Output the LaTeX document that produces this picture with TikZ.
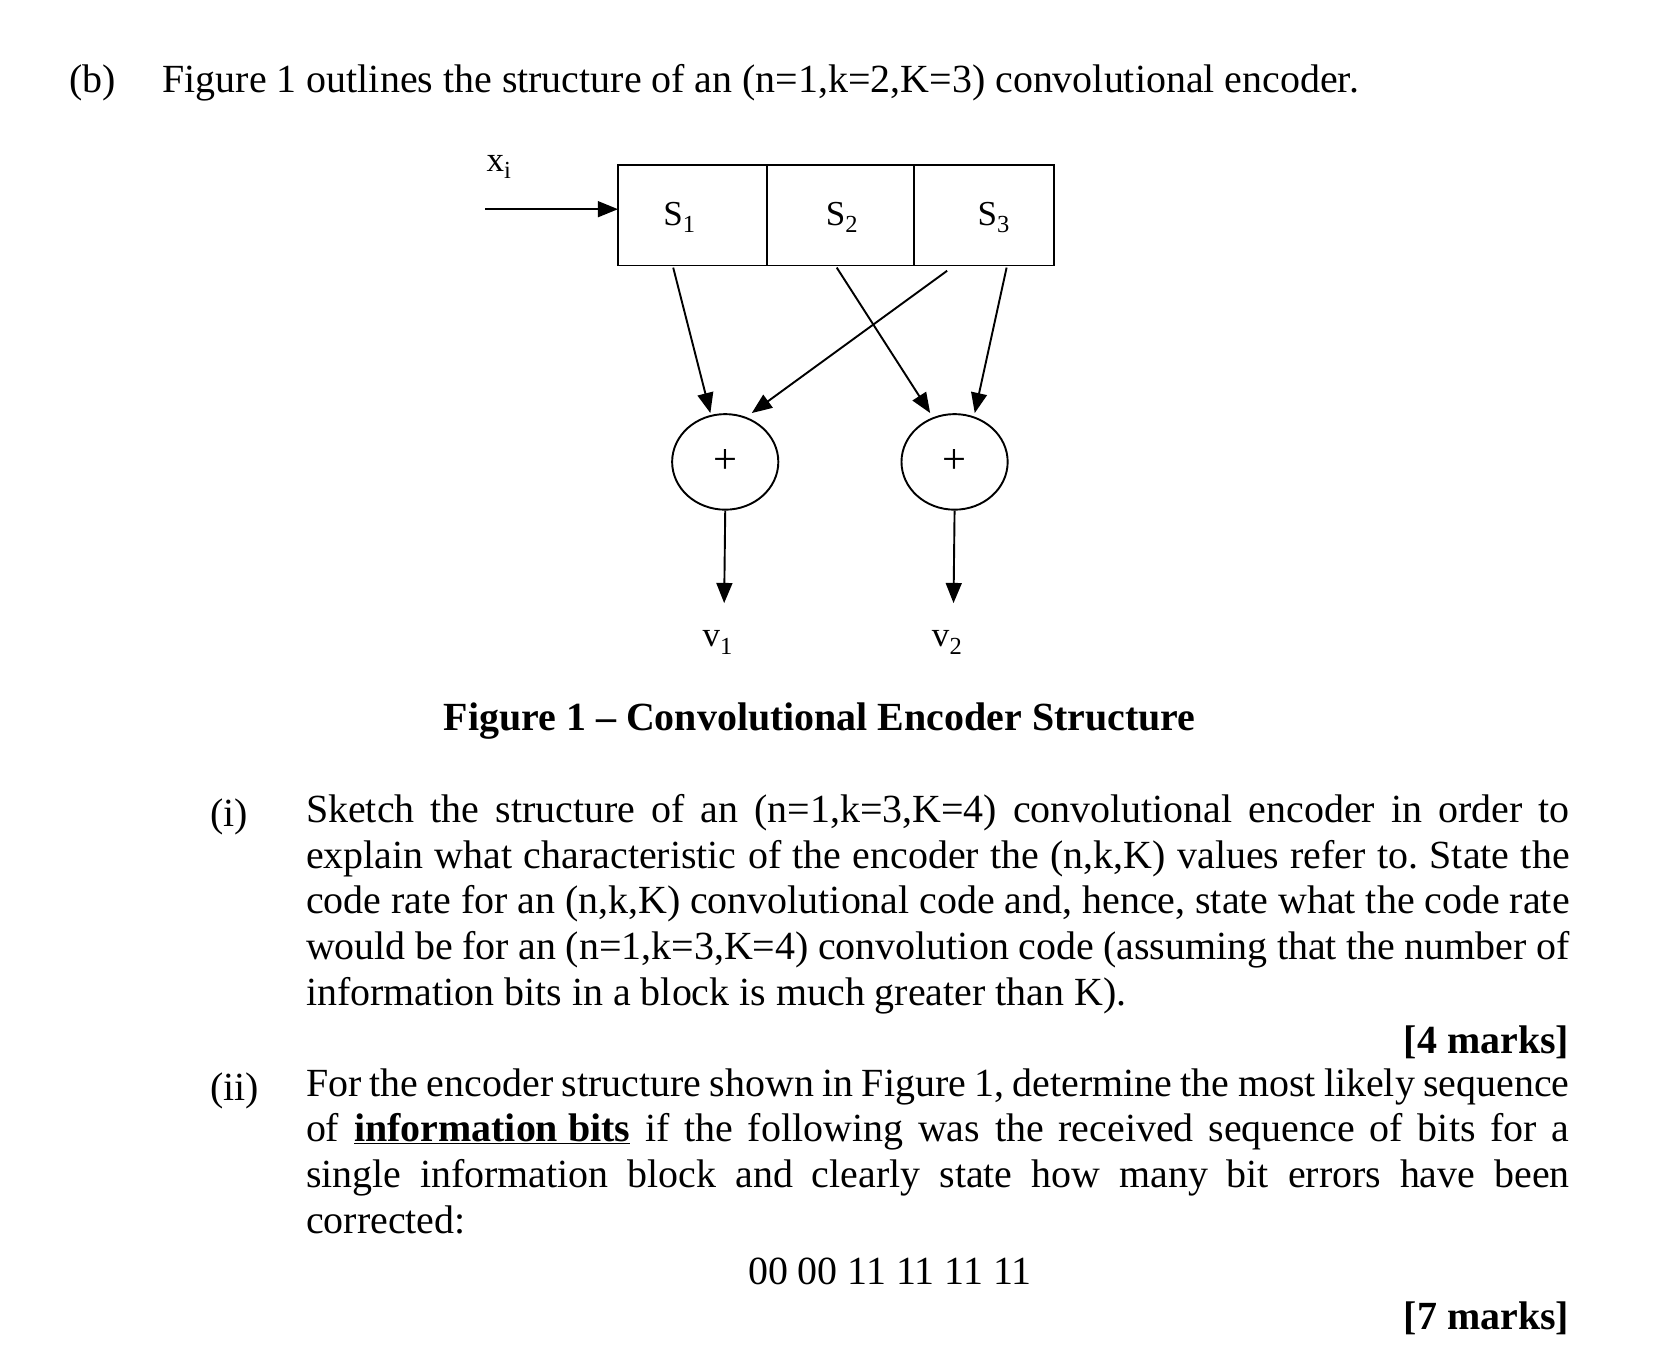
\documentclass[tikz,border=0pt]{standalone}
\usepackage{fontspec}
\setmainfont{Liberation Serif}
\usetikzlibrary{arrows.meta,shapes.geometric}
\begin{document}
\frenchspacing
\begin{tikzpicture}[x=1pt,y=-1pt,
  arr/.style={-{Triangle[length=19pt,width=15pt]},line width=1.8pt},
  txt/.style={font=\fontsize{37.6}{43}\selectfont,inner sep=0pt},
  sml/.style={font=\fontsize{33}{40}\selectfont,inner sep=0pt}]
\useasboundingbox (0,0) rectangle (1569,1291);
\node[txt,anchor=base west] (b) at (65,87) {(b)};
\node[txt,anchor=base west] (head) at (153,87) {Figure 1 outlines the structure of an (n=1,k=2,K=3) convolutional encoder.};
% diagram
\node[sml] (xi) at (470,157) {x\textsubscript{i}};
\coordinate (in) at (457,197);
\draw[line width=1.8pt] (582,155) rectangle (993,250);
\draw[line width=1.8pt] (722,155) -- (722,250) (861,155) -- (861,250);
\coordinate (box) at (582,197);
\node[sml] (s1) at (640,205) {S\textsubscript{1}};
\node[sml] (s2) at (793,205) {S\textsubscript{2}};
\node[sml] (s3) at (936,205) {S\textsubscript{3}};
\draw[arr] (in) -- (box);
\node[draw,ellipse,line width=1.8pt,minimum width=100pt,minimum height=90pt,inner sep=0pt,font=\fontsize{40}{40}\selectfont] (p1) at (683,435) {+};
\node[draw,ellipse,line width=1.8pt,minimum width=100pt,minimum height=90pt,inner sep=0pt,font=\fontsize{40}{40}\selectfont] (p2) at (899,435) {+};
\coordinate (a1) at (634,252); \coordinate (a1e) at (669,389);
\coordinate (a2) at (892,255); \coordinate (a2e) at (708,389);
\coordinate (a3) at (788,252); \coordinate (a3e) at (876,389);
\coordinate (a4) at (948,252); \coordinate (a4e) at (918,389);
\draw[arr] (a1) -- (a1e);
\draw[arr] (a2) -- (a2e);
\draw[arr] (a3) -- (a3e);
\draw[arr] (a4) -- (a4e);
\coordinate (o1) at (682,568); \coordinate (o2) at (898,568);
\draw[arr] (p1.south) -- (o1);
\draw[arr] (p2.south) -- (o2);
\node[sml] (v1) at (676,605) {v\textsubscript{1}};
\node[sml] (v2) at (892,605) {v\textsubscript{2}};
\node[txt,font=\fontsize{37.6}{43}\selectfont\bfseries] (cap) at (772,679) {Figure 1 – Convolutional Encoder Structure};
% questions
\node[txt,anchor=base west] (i) at (198,778) {(i)};
\node[txt,anchor=north west,text width=1190pt,align=justify] (p) at (288,748) {Sketch the structure of an (n=1,k=3,K=4) convolutional encoder in order to\linebreak explain what characteristic of the encoder the (n,k,K) values refer to. State the\linebreak code rate for an (n,k,K) convolutional code and, hence, state what the code rate\linebreak would be for an (n=1,k=3,K=4) convolution code (assuming that the number of\linebreak information bits in a block is much greater than K).};
\node[txt,anchor=base east,font=\fontsize{37.6}{43}\selectfont\bfseries] (m4) at (1478,992) {[4 marks]};
\node[txt,anchor=base west] (ii) at (198,1036) {(ii)};
\node[txt,anchor=north west,text width=1190pt,align=justify] (q) at (288,1006) {For the encoder structure shown in Figure 1, determine the most likely sequence\linebreak of \underline{\textbf{information bits}} if the following was the received sequence of bits for a\linebreak single information block and clearly state how many bit errors have been\linebreak corrected:};
\node[txt] (seq) at (838,1197) {00 00 11 11 11 11};
\node[txt,anchor=base east,font=\fontsize{37.6}{43}\selectfont\bfseries] (m7) at (1478,1252) {[7 marks]};
\end{tikzpicture}
\end{document}
